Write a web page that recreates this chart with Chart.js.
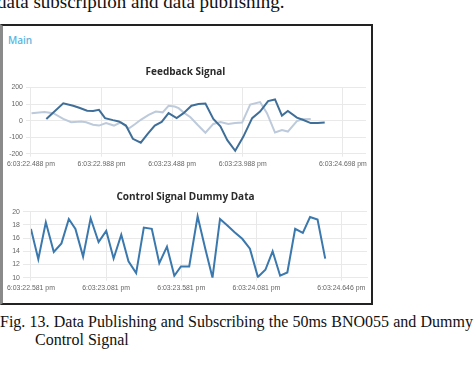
<!DOCTYPE html>
<html>
<head>
<meta charset="utf-8">
<script src="https://cdn.jsdelivr.net/npm/chart.js@4.4.1/dist/chart.umd.min.js"></script>
<style>
  body { margin: 0; background: #fff; width: 474px; height: 373px; overflow: hidden; position: relative; }
  .lead { position: absolute; left: -3px; top: -8px; font: 19px/20px "Liberation Serif", serif; color: #111; white-space: nowrap; }
  .box { position: absolute; left: 0; top: 24px; width: 368px; height: 277px; border-top: 2px solid #222; border-right: 2px solid #222; border-bottom: 2px solid #222; border-left: 3px solid #8a8a8a; }
  .main { position: absolute; left: 8px; top: 33px; font: 600 10px "Open Sans", sans-serif; color: #5ab6df; }
  canvas { position: absolute; }
  .cap1 { position: absolute; left: 0; top: 313px; width: 473px; font: 16px/18px "Liberation Serif", serif; color: #111; text-align: justify; text-align-last: justify; white-space: nowrap; }
  .cap2 { position: absolute; left: 35px; top: 331px; font: 16px/18px "Liberation Serif", serif; color: #111; }
</style>
</head>
<body>
<div class="lead">data subscription and data publishing.</div>
<div class="box"></div>
<div class="main">Main</div>
<canvas id="feedback" width="366" height="105" style="left:4px;top:66px;width:366px;height:105px"></canvas>
<canvas id="control" width="366" height="104" style="left:4px;top:191px;width:366px;height:104px"></canvas>
<div class="cap1">Fig. 13. Data Publishing and Subscribing the 50ms BNO055 and Dummy</div>
<div class="cap2">Control Signal</div>
<script>
// times are seconds past 6:03 pm
const feedbackTicks = [22.488, 22.988, 23.488, 23.988, 24.698];
const controlTicks = [22.581, 23.081, 23.581, 24.081, 24.646];

const darkTimes = [22.597, 22.717, 22.787, 22.830, 22.886, 22.928, 22.970, 23.013, 23.069, 23.111,
  23.161, 23.210, 23.266, 23.315, 23.365, 23.414, 23.463, 23.520, 23.569, 23.625,
  23.675, 23.724, 23.780, 23.830, 23.879, 23.935, 23.992, 24.055, 24.111, 24.168,
  24.217, 24.266, 24.308, 24.372, 24.414, 24.470, 24.520, 24.569];
const darkValues = [10, 105, 90, 78, 60, 58, 65, 15, 3, -5,
  -30, -110, -133, -80, -30, -8, 45, 15, 45, 90,
  100, 103, 10, -35, -118, -182, -98, 15, 55, 118,
  128, 30, 58, 18, 5, -15, -15, -12];

const lightTimes = [22.492, 22.583, 22.646, 22.717, 22.773, 22.844, 22.879, 22.928, 22.970, 23.020,
  23.076, 23.125, 23.181, 23.224, 23.266, 23.322, 23.372, 23.421, 23.463, 23.506,
  23.534, 23.576, 23.618, 23.668, 23.724, 23.780, 23.830, 23.886, 23.935, 23.984,
  24.041, 24.111, 24.160, 24.217, 24.266, 24.308, 24.372, 24.414, 24.470];
const lightValues = [45, 52, 45, 10, -10, -5, -10, -25, -30, -15,
  -30, -10, -48, -22, 5, 35, 55, 50, 90, 85,
  75, 45, 20, -25, -73, -20, -8, -20, -15, -12,
  97, 112, 45, -72, -57, -66, -3, 8, 10];

const controlTimes = [22.581, 22.630, 22.680, 22.733, 22.784, 22.833, 22.877, 22.928, 22.978, 23.031,
  23.082, 23.131, 23.182, 23.230, 23.281, 23.332, 23.385, 23.435, 23.486, 23.535,
  23.579, 23.634, 23.690, 23.741, 23.789, 23.839, 23.888, 23.936, 23.987, 24.038,
  24.091, 24.141, 24.189, 24.239, 24.287, 24.339, 24.390, 24.438, 24.488, 24.539];
const controlValues = [17.4, 12.8, 18.4, 13.9, 15.2, 18.9, 17.4, 13.2, 19.0, 15.4,
  17.1, 12.9, 16.5, 12.5, 10.7, 17.6, 17.4, 12.2, 14.7, 10.3,
  11.7, 11.7, 19.3, 14.4, 10.0, 18.9, 17.9, 16.9, 15.9, 14.4,
  10.1, 11.2, 14.0, 10.3, 10.8, 17.4, 16.8, 19.2, 18.8, 12.9];

const gridColor = '#e9e9e9';
const tickFont = { family: 'Liberation Sans, Arial, sans-serif', size: 6.9 };

function timeLabel(v) {
  return '6:03:' + v.toFixed(3) + ' pm';
}

function points(times, values) {
  return times.map((t, i) => ({ x: t, y: values[i] }));
}

function makeChart(id, opts) {
  return new Chart(document.getElementById(id), {
    type: 'line',
    data: { datasets: opts.datasets },
    options: {
      responsive: false,
      animation: false,
      layout: { padding: { left: 0, right: 3, top: 0, bottom: 0 } },
      elements: { point: { radius: 0 }, line: { tension: 0 } },
      plugins: {
        legend: { display: false },
        tooltip: { enabled: false },
        title: {
          display: true,
          text: opts.title,
          color: '#2b2b2b',
          font: { family: 'Open Sans, sans-serif', size: 10, weight: '700', lineHeight: 1.2 },
          padding: { top: 0, bottom: opts.titleGap }
        }
      },
      scales: {
        x: {
          type: 'linear',
          min: opts.xMin,
          max: opts.xMax,
          afterBuildTicks: scale => { scale.ticks = opts.ticks.map(v => ({ value: v })); },
          grid: { color: gridColor, tickLength: 3 },
          border: { color: gridColor },
          ticks: { color: '#666', font: tickFont, padding: 3, maxRotation: 0, autoSkip: false, callback: timeLabel }
        },
        y: {
          min: opts.yMin,
          max: opts.yMax,
          afterFit: scale => { scale.width = opts.yWidth; },
          grid: { color: gridColor, tickLength: opts.yTick },
          border: { color: gridColor },
          ticks: { color: '#666', font: tickFont, padding: 3, stepSize: opts.yStep }
        }
      }
    }
  });
}

makeChart('feedback', {
  title: 'Feedback Signal',
  titleGap: 9.5,
  xMin: 22.488, xMax: 24.861, ticks: feedbackTicks,
  yMin: -200, yMax: 200, yStep: 100, yWidth: 26, yTick: 5,
  datasets: [
    { data: points(darkTimes, darkValues), borderColor: '#3f6f98', borderWidth: 2 },
    { data: points(lightTimes, lightValues), borderColor: '#bccadb', borderWidth: 2 }
  ]
});

makeChart('control', {
  title: 'Control Signal Dummy Data',
  titleGap: 8.7,
  xMin: 22.581, xMax: 24.817, ticks: controlTicks,
  yMin: 10, yMax: 20, yStep: 2, yWidth: 25.3, yTick: 8,
  datasets: [
    { data: points(controlTimes, controlValues), borderColor: '#3a78ad', borderWidth: 2 }
  ]
});
</script>
</body>
</html>
